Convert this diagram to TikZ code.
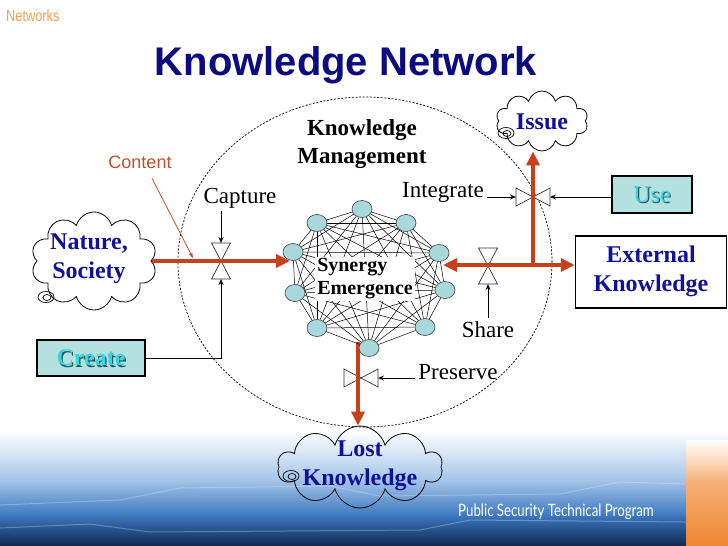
\documentclass[tikz,border=0pt]{standalone}
\usepackage{fontspec}
\setmainfont{Liberation Serif}
\setsansfont{Liberation Sans}
\newfontfamily\progfont[FakeStretch=0.78]{Lato}
\newfontfamily\narrowfont[FakeStretch=0.8]{Liberation Sans}
\usetikzlibrary{shapes.geometric,shapes.symbols,arrows.meta}
\definecolor{flowred}{HTML}{C8401A}
\definecolor{kblue}{HTML}{10109A}
\definecolor{titleblue}{HTML}{0C0C80}
\definecolor{netorange}{HTML}{F0A050}
\definecolor{contentc}{HTML}{C05028}
\definecolor{netfill}{HTML}{A8D8DC}
\definecolor{boxfill}{HTML}{B4E0E0}
\definecolor{cyantxt}{HTML}{38D4E4}
\definecolor{shadowc}{HTML}{1E5A5A}
\definecolor{band1}{HTML}{A4C4E8}
\definecolor{band2}{HTML}{3C78C0}
\definecolor{band3}{HTML}{102850}
\definecolor{orange1}{HTML}{F6B27A}
\definecolor{orange2}{HTML}{EE8630}

\tikzset{
  vvalve/.pic={\draw[valveline] (-9.5,-18)--(9.5,-18)--(-9.5,18)--(9.5,18)--cycle;
    \coordinate (-top) at (0,-18); \coordinate (-bot) at (0,18);},
  hvalve/.pic={\draw[valveline] (-17,-9)--(-17,9)--(17,-9)--(17,9)--cycle;
    \coordinate (-left) at (-17,0); \coordinate (-right) at (17,0);},
  doodle/.pic={\draw[line width=0.7pt] (0,0) ellipse (8 and 5.5);
    \draw[line width=0.7pt] (1,0.5) ellipse (4 and 3);}
}

\begin{document}
\begin{tikzpicture}[x=1pt,y=-1pt,
  every node/.style={inner sep=0pt},
  valveline/.style={draw=black!80,fill=white,line width=0.7pt},
  flow/.style={draw=flowred,line width=4pt},
  fhead/.style={-{Triangle[length=14pt,width=13pt]}},
  fboth/.style={{Triangle[length=14pt,width=13pt]}-{Triangle[length=14pt,width=13pt]}},
  thinarr/.style={draw=black,line width=0.9pt,-{Stealth[length=6pt,width=5pt]}},
  contarr/.style={draw=contentc,line width=0.8pt,-{Stealth[length=6pt,width=4pt]}},
  lbl/.style={inner sep=3pt,font=\fontsize{23}{26}\selectfont},
  bluetxt/.style={text=kblue,align=center,font=\bfseries\fontsize{24}{29}\selectfont},
  cyantext/.style={text=cyantxt,font=\fontsize{24}{26}\selectfont},
  cloudshape/.style={cloud,cloud puffs=10,cloud ignores aspect,draw,fill=white,line width=0.8pt},
  boxshape/.style={draw,line width=2pt,fill=boxfill},
  netnode/.style={ellipse,draw=black!75,fill=netfill,minimum width=20pt,minimum height=17pt,line width=0.6pt},
  netedge/.style={line width=0.5pt},
  bandline/.style={draw=white,opacity=0.25,line width=1pt}]
  \useasboundingbox (0,0) rectangle (728,546);
  \fill[white] (0,0) rectangle (728,546);

  % bottom band
  \shade[top color=white,bottom color=band1] (0,430) rectangle (728,481);
  \shade[top color=band1,bottom color=band2] (0,480) rectangle (728,516);
  \shade[top color=band2,bottom color=band3] (0,515) rectangle (728,546);
  \draw[bandline] (0,505) -- (120,500) -- (180,488) -- (330,486) -- (380,496) -- (560,494) -- (620,482) -- (686,484);
  \draw[bandline] (0,528) -- (90,524) -- (150,532) -- (420,530) -- (470,520) -- (686,522);
  \shade[top color=white,bottom color=orange1] (686,440) rectangle (728,481);
  \shade[top color=orange1,bottom color=orange2] (686,480) rectangle (728,546);
  \node[anchor=base,text=white,font=\progfont\fontsize{17}{20}\selectfont] (prog) at (556,516) {Public Security Technical Program};

  % titles
  \node[anchor=base west,text=netorange,font=\narrowfont\fontsize{16}{18}\selectfont] (sect) at (6,21) {Networks};
  \node[anchor=base,text=titleblue,font=\sffamily\bfseries\fontsize{40}{46}\selectfont] (title) at (346,75) {Knowledge Network};

  \draw[line width=0.7pt,dash pattern=on 2pt off 1.6pt] (365,262) ellipse (187 and 165);
  \node[align=center,font=\bfseries\fontsize{23}{28}\selectfont] (km) at (362,144) {Knowledge\\Management};

  % clouds
  \node[cloudshape,minimum width=126pt,minimum height=98pt] (nature) at (94,261) {};
  \node[bluetxt] (natureT) at (89,259) {Nature,\\Society};
  \node[cloudshape,minimum width=92pt,minimum height=60pt] (issue) at (542,121) {};
  \node[bluetxt] (issueT) at (542,122) {Issue};
  \node[cloudshape,fill=none,minimum width=165pt,minimum height=82pt] (lost) at (360,467) {};
  \node[bluetxt] (lostT) at (360,466) {Lost\\Knowledge};
  \pic at (46,297) {doodle};
  \pic at (506,133) {doodle};
  \pic at (291,476) {doodle};

  % boxes
  \node[boxshape,minimum width=108pt,minimum height=36pt] (create) at (91,358) {};
  \node[cyantext,text=shadowc,font=\bfseries\fontsize{24}{26}\selectfont] (createS) at (92.3,359.3) {Create};
  \node[cyantext,font=\bfseries\fontsize{24}{26}\selectfont] (createT) at (91,358) {Create};
  \node[boxshape,line width=1.8pt,minimum width=80pt,minimum height=37pt] (use) at (652,194.5) {};
  \node[cyantext,text=shadowc] (useS) at (653.2,195.7) {Use};
  \node[cyantext] (useT) at (652,194.5) {Use};
  \node[draw,line width=1.5pt,fill=white,minimum width=151pt,minimum height=72pt] (ext) at (651,272) {};
  \node[bluetxt] (extT) at (651,271) {External\\Knowledge};

  % valves
  \pic (cap) at (221,261) {vvalve};
  \pic (int) at (533,197) {hvalve};
  \pic (share) at (488,266) {vvalve};
  \pic (pres) at (361,378) {hvalve};

  % flows
  \coordinate (inS) at (290,261);
  \coordinate (cTip) at (193,258);
  \coordinate (outL) at (443,265);
  \coordinate (jct) at (533,265);
  \coordinate (outB) at (358,342);
  \draw[flow,fhead] (nature.east |- inS) -- (inS);
  \draw[flow,fboth] (outL) -- (outL -| ext.west);
  \draw[flow,fhead] (jct) -- (jct |- issue.south);
  \draw[flow,fhead] (outB) -- (outB |- lost.north);

  % network
  \foreach \nm/\px/\py in {1/362/209, 2/406/223, 3/439/253, 4/445/290, 5/425/327,
                          6/369/348, 7/317/328, 8/295/293, 9/293/252, 10/317/223}
    \node[netnode] (n\nm) at (\px,\py) {};
  \foreach \i in {1,...,9}{
    \pgfmathtruncatemacro\k{\i+1}
    \foreach \j in {\k,...,10} \draw[netedge] (n\i) -- (n\j);
  }
  \node[fill=white,inner sep=2pt,align=left,font=\bfseries\fontsize{20}{23}\selectfont] (syn) at (365,279) {Synergy\\Emergence};

  % labels
  \node[lbl,anchor=base] (capL) at (240,203) {Capture};
  \node[lbl,anchor=base] (intL) at (443,197) {Integrate};
  \node[lbl,anchor=base] (shareL) at (488,337) {Share};
  \node[lbl,anchor=base] (presL) at (458,379) {Preserve};
  \node[anchor=base,text=contentc,font=\sffamily\fontsize{18}{20}\selectfont] (content) at (140,168) {Content};
  \draw[thinarr] (capL.south -| cap-top) -- (cap-top);
  \draw[thinarr] (create.east) -| (cap-bot);
  \draw[thinarr] (intL.east |- int-left) -- (int-left);
  \draw[thinarr] (use.west |- int-right) -- (int-right);
  \draw[thinarr] (shareL.north) -- (share-bot);
  \draw[thinarr] (presL.west |- pres-right) -- (pres-right);
  \draw[contarr] ([xshift=12pt,yshift=-10pt]content.south) -- (cTip);
\end{tikzpicture}
\end{document}
